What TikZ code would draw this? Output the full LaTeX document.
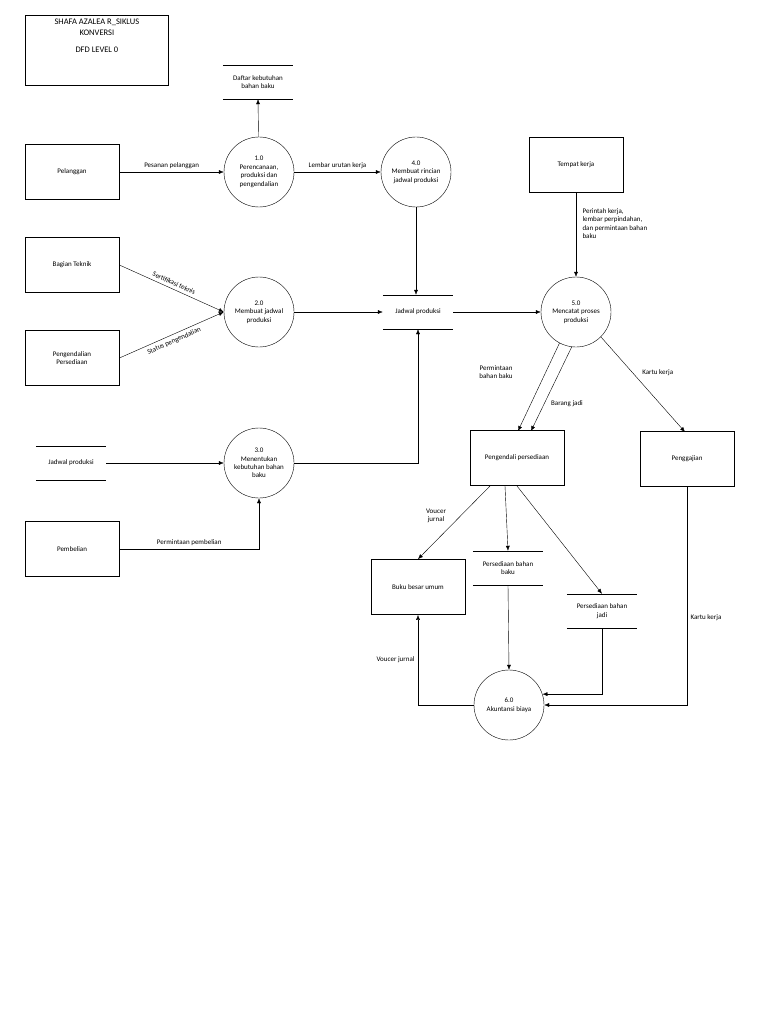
\documentclass[tikz,border=0pt]{standalone}
\usepackage{fontspec}
\setmainfont{Carlito}
\usetikzlibrary{arrows.meta}
\begin{document}
\begin{tikzpicture}[x=1pt,y=-1pt,
  box/.style={draw,thick,minimum width=94pt,minimum height=55pt,align=center,font=\fontsize{7}{8.5}\selectfont},
  proc/.style={draw,circle,minimum size=70pt,inner sep=0pt,align=center,font=\fontsize{7}{8.5}\selectfont},
  store/.style={minimum width=70pt,minimum height=34pt,align=center,inner sep=1pt,font=\fontsize{7}{8.5}\selectfont},
  lab/.style={font=\fontsize{7}{8.5}\selectfont,align=center},
  fl/.style={-{Latex[length=5pt,width=4pt]},thin}]
\useasboundingbox (0,0) rectangle (768,1024);
\node[draw,thick,minimum width=143pt,minimum height=56pt,font=\fontsize{8.5}{11}\selectfont,align=center,anchor=north west,text depth=30pt] (title) at (25,15) {SHAFA AZALEA R\_SIKLUS\\KONVERSI\\[6pt]DFD LEVEL 0};
\newcommand{\stlines}[1]{\draw (#1.north west)--(#1.north east) (#1.south west)--(#1.south east);}
\node[store] (dk) at (258,82) {Daftar kebutuhan\\bahan baku}; \stlines{dk}
\node[box] (pel) at (72,172) {Pelanggan};
\node[proc] (p1) at (259,172) {1.0\\Perencanaan,\\produksi dan\\pengendalian};
\node[proc] (p4) at (416,172) {4.0\\Membuat rincian\\jadwal produksi};
\node[box] (bt) at (72,265) {Bagian Teknik};
\node[box] (pp) at (72,358) {Pengendalian\\Persediaan};
\node[proc] (p2) at (259,312) {2.0\\Membuat jadwal\\produksi};
\node[store] (jp) at (418,312) {Jadwal produksi}; \stlines{jp}
\node[proc] (p3) at (259,463) {3.0\\Menentukan\\kebutuhan bahan\\baku};
\node[store] (jp2) at (71,463) {Jadwal produksi}; \stlines{jp2}
\node[box] (pb) at (72,549) {Pembelian};
\node[box] (tk) at (576,165) {Tempat kerja};
\node[proc] (p5) at (576,312) {5.0\\Mencatat proses\\produksi};
\node[box] (pgp) at (517,458) {Pengendali persediaan};
\node[box] (pg) at (687,459) {Penggajian};
\node[box] (bb) at (418,587) {Buku besar umum};
\node[store] (sbb) at (508,568) {Persediaan bahan\\baku}; \stlines{sbb}
\node[store] (sbj) at (602,611) {Persediaan bahan\\jadi}; \stlines{sbj}
\node[proc] (p6) at (509,705) {6.0\\Akuntansi biaya};

\draw[fl] (p1) -- (dk.south);
\draw[fl] (pel) -- node[lab,above] {Pesanan pelanggan} (p1);
\draw[fl] (p1) -- node[lab,above] {Lembar urutan kerja} (p4);
\draw[fl] (p4.south) -- (p4.south |- jp.north);
\draw[fl] (bt.east) -- node[lab,above,sloped] {Sertifikasi teknis} (p2.west);
\draw[fl] (pp.east) -- node[lab,below,sloped] {Status pengendalian} (p2.west);
\draw[fl] (p2) -- (jp);
\draw[fl] (jp) -- (p5);
\draw[fl] (jp2) -- (p3);
\draw[fl] (p3.east) -| (jp.south);
\draw[fl] (pb.east) -- node[lab,above] {Permintaan pembelian} (259,549) -- (p3.south);
\draw[fl] (tk) -- (p5);
\node[lab,align=left,anchor=north west] (tkl) at (579,205) {Perintah kerja,\\lembar perpindahan,\\dan permintaan bahan\\baku};
\draw[fl] (p5.-118) -- (518,431);
\draw[fl] (p5.-97) -- (531,431);
\node[lab] (l1) at (496,372) {Permintaan\\bahan baku};
\node[lab] (l2) at (567,404) {Barang jadi};
\draw[fl] (p5.-45) -- node[lab,above right,pos=0.45] {Kartu kerja} (685,432);
\draw[fl] (490,486) -- (bb.north);
\node[lab] (l3) at (436,516) {Voucer\\jurnal};
\draw[fl] (505,486) -- (sbb.north);
\draw[fl] (517,486) -- (sbj.north);
\draw[fl] (sbb.south) -- (p6.north);
\draw[fl] (sbj.south) |- (p6.18);
\draw[fl] (pg.south) |- node[lab,right,pos=0.3] {Kartu kerja} (p6.east);
\draw[fl] (p6.west) -| node[lab,left,pos=0.75] {Voucer jurnal} (bb.south);
\end{tikzpicture}
\end{document}
